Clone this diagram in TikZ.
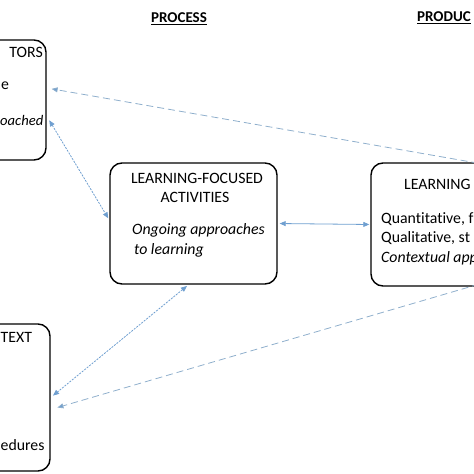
\documentclass[tikz,border=0pt]{standalone}
\usepackage{fontspec}
\setmainfont[Ligatures=NoCommon]{Carlito}
\usetikzlibrary{arrows.meta}
\definecolor{LinkBlue}{HTML}{6F9FD0}
\definecolor{LinkGray}{HTML}{8FAFCC}

\begin{document}
\begin{tikzpicture}[x=1pt,y=-1pt,
  box/.style={draw,line width=1.4pt,rounded corners=12pt,inner sep=0pt},
  txt/.style={font=\fontsize{15.8}{19}\selectfont,inner sep=0pt},
  ttl/.style={font=\fontsize{15}{18}\selectfont\bfseries,inner sep=0pt},
  link/.style={LinkBlue,line width=0.8pt,
    {Triangle[length=6pt,width=5pt]}-{Triangle[length=6pt,width=5pt]}},
  fine/.style={link,dash pattern=on 2pt off 1.2pt},
  far/.style={LinkGray,line width=0.8pt,dash pattern=on 7pt off 4pt,
    -{Triangle[length=6pt,width=5pt,fill=LinkBlue]}}]
  \useasboundingbox (0,0) rectangle (474,474);
  \clip (0,0) rectangle (474,474);
  % column titles
  \node[ttl] (tP) at (179,19) {\underline{PROCESS}};
  \node[ttl,anchor=mid west] (tQ) at (417,19) {\underline{PRODUC}};
  % boxes
  \node[box,minimum width=120pt,minimum height=120pt] (PF) at (-14,100) {};
  \node[box,minimum width=124pt,minimum height=147pt] (CX) at (-12,397.5) {};
  \node[box,minimum width=167pt,minimum height=121pt] (LA) at (193.5,223.5) {};
  \node[box,minimum width=150pt,minimum height=123pt] (LO) at (446,224.5) {};
  % box texts
  \node[txt,anchor=mid east] (pf1) at (43,55) {TORS};
  \node[txt,anchor=mid west] (pf2) at (1,87) {e};
  \node[txt,anchor=mid west,font=\fontsize{14.6}{18}\selectfont\itshape]
    (pf3) at (0,123) {oached};
  \node[txt,anchor=mid west] (cx1) at (0.5,340) {TEXT};
  \node[txt,anchor=mid west] (cx2) at (0.5,448) {edures};
  \node[txt] (la1) at (197,178) {LEARNING-FOCUSED};
  \node[txt] (la2) at (195,197) {ACTIVITIES};
  \node[txt,anchor=mid west] (la3) at (132,232) {\itshape Ongoing approaches};
  \node[txt,anchor=mid west] (la4) at (134,252) {\itshape to learning};
  \node[txt,anchor=mid west] (lo1) at (404,187) {LEARNING};
  \node[txt,anchor=mid west] (lo2) at (381,221) {Quantitative, f};
  \node[txt,anchor=mid west] (lo3) at (381,240) {Qualitative, st};
  \node[txt,anchor=mid west] (lo4) at (381,260) {\itshape Contextual app};
  % connectors
  \coordinate (far1) at (500,167);
  \coordinate (far2) at (500,278);
  \draw[far,shorten >=5pt] (far1) -- ([yshift=12pt]PF.east);
  \draw[far,shorten >=7pt] (far2) -- ([yshift=-12pt]CX.east);
  \draw[fine,shorten <=5pt,shorten >=2pt]
    ([yshift=-16pt]PF.east) -- ([yshift=3.5pt]LA.west);
  \draw[link,shorten <=2pt,shorten >=1pt] (LA.east) -- (LO.west);
  \draw[fine,shorten <=2pt,shorten >=3pt]
    ([xshift=-5pt]LA.south) -- (CX.east);
\end{tikzpicture}
\end{document}
